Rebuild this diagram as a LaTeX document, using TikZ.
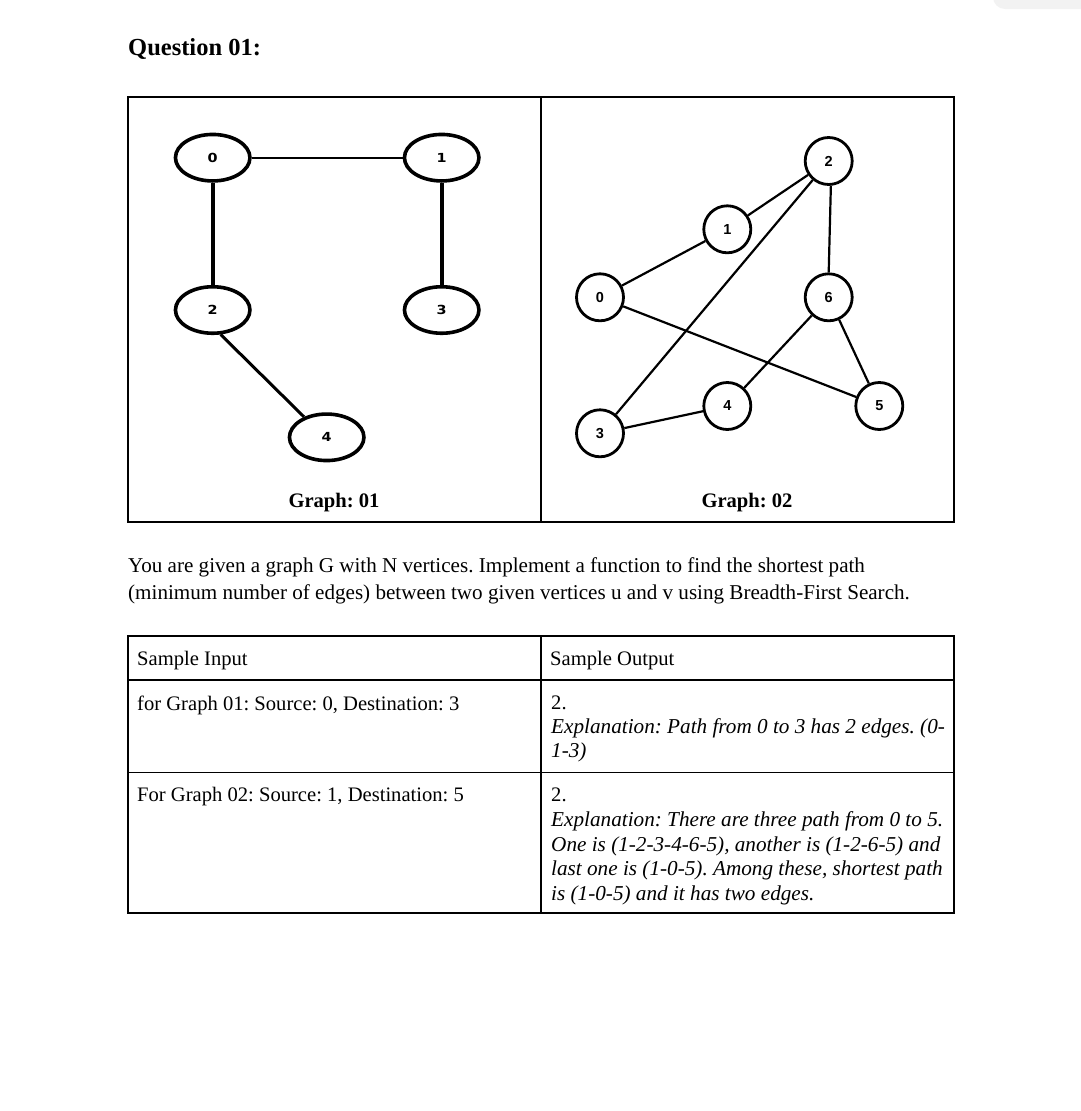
\documentclass[tikz,border=0pt]{standalone}
\usepackage{fontspec}
\setmainfont{Liberation Serif}
\newfontfamily\labelfont{DejaVu Sans}
\newfontfamily\labelfontb{Liberation Sans}
\usetikzlibrary{shapes.geometric}
\frenchspacing
\tikzset{
  frame/.style={draw=black, line width=1.7pt},
  gonenode/.style={ellipse, draw, line width=3.6pt, minimum width=74.5pt, minimum height=46.5pt, inner sep=0pt,
    font=\labelfont\bfseries\fontsize{12.5}{12.5}\selectfont},
  gtwonode/.style={circle, draw, line width=2.8pt, minimum size=47pt, inner sep=0pt,
    font=\labelfontb\bfseries\fontsize{14.5}{14.5}\selectfont},
  gtwoedge/.style={line width=2.2pt},
  txt/.style={anchor=base west, inner sep=0pt, font=\frenchspacing\fontsize{20.6}{24}\selectfont},
  ptxt/.style={anchor=base west, inner sep=0pt, font=\frenchspacing\fontsize{21.1}{27}\selectfont},
  itxt/.style={anchor=base west, inner sep=0pt, font=\frenchspacing\itshape\fontsize{21.2}{24}\selectfont},
  title/.style={anchor=base, inner sep=0pt, font=\frenchspacing\bfseries\fontsize{20.6}{24}\selectfont},
}
\begin{document}
\begin{tikzpicture}[x=1pt,y=-1pt]
\useasboundingbox (0,0) rectangle (1080,1111);
\fill[white] (0,0) rectangle (1080,1111);
% faint grey shape at top right
\fill[black!5, rounded corners=12pt] (993,-20) rectangle (1100,9);

% heading
\node[anchor=base west, inner sep=0pt, font=\frenchspacing\bfseries\fontsize{24.5}{28}\selectfont] (q) at (128,55) {Question 01:};

% top frames
\draw[frame] (128,97) rectangle (954,522);
\draw[frame] (541,97) -- (541,522);

% Graph 01
\node[gonenode] (a0) at (212.7,157.7) {\scalebox{1.15}[1]{0}};
\node[gonenode] (a1) at (441.7,157.7) {\scalebox{1.15}[1]{1}};
\node[gonenode] (a2) at (212.7,310) {\scalebox{1.15}[1]{2}};
\node[gonenode] (a3) at (441.7,310) {\scalebox{1.15}[1]{3}};
\node[gonenode] (a4) at (326.7,437.3) {\scalebox{1.15}[1]{4}};
\draw[line width=2.2pt] (a0) -- (a1);
\draw[line width=3.8pt] (a0) -- (a2);
\draw[line width=3.8pt] (a1) -- (a3);
\draw[line width=3pt] (a2.288) -- (a4.138);
\node[title] (t1) at (334,507.3) {Graph: 01};

% Graph 02
\node[gtwonode] (b2) at (828.7,161) {2};
\node[gtwonode] (b1) at (727.3,229.3) {1};
\node[gtwonode] (b0) at (600,297.3) {0};
\node[gtwonode] (b6) at (828.7,297.3) {6};
\node[gtwonode] (b4) at (727.3,406) {4};
\node[gtwonode] (b5) at (879.3,406) {5};
\node[gtwonode] (b3) at (600,433.3) {3};
\draw[gtwoedge] (b0) -- (b1);
\draw[gtwoedge] (b1) -- (b2);
\draw[gtwoedge] (b2) -- (b3);
\draw[gtwoedge] (b2.275) -- (b6.90);
\draw[gtwoedge] (b6) -- (b4);
\draw[gtwoedge] (b6) -- (b5);
\draw[gtwoedge] (b0) -- (b5);
\draw[gtwoedge] (b3) -- (b4);
\node[title] (t2) at (747,507.3) {Graph: 02};

% paragraph
\node[ptxt] (p1) at (128,572.7) {You are given a graph G with N vertices. Implement a function to find the shortest path};
\node[ptxt] (p2) at (128,599.5) {(minimum number of edges) between two given vertices u and v using Breadth-First Search.};

% table
\draw[frame] (128,636) rectangle (954,913);
\draw[frame] (128,680) -- (954,680);
\draw[frame] (128,772.5) -- (954,772.5);
\draw[frame] (541,636) -- (541,913);

\node[txt] (h1) at (137,665) {Sample Input};
\node[txt] (h2) at (550,665) {Sample Output};
\node[txt] (r1) at (137,710) {for Graph 01: Source: 0, Destination: 3};
\node[txt] (r2) at (137,801.5) {For Graph 02: Source: 1, Destination: 5};

\node[txt] (o1a) at (551,709.3) {2.};
\node[itxt] (o1b) at (551,733.3) {Explanation: Path from 0 to 3 has 2 edges. (0-};
\node[itxt] (o1c) at (551,757.3) {1-3)};

\node[txt] (o2a) at (551,801.7) {2.};
\node[itxt] (o2b) at (551,826.5) {Explanation: There are three path from 0 to 5.};
\node[itxt] (o2c) at (551,851) {One is (1-2-3-4-6-5), another is (1-2-6-5) and};
\node[itxt] (o2d) at (551,875.5) {last one is (1-0-5). Among these, shortest path};
\node[itxt] (o2e) at (551,900) {is (1-0-5) and it has two edges.};
\end{tikzpicture}
\end{document}
